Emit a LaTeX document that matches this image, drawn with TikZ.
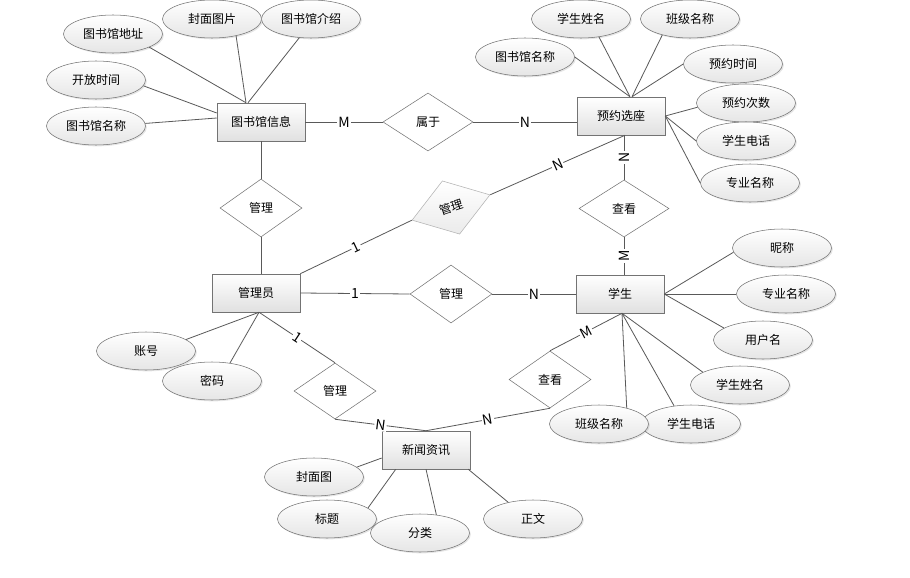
\documentclass[tikz,border=0pt]{standalone}
\usepackage{fontspec}
\setmainfont{Noto Sans CJK SC}
\usetikzlibrary{shapes.geometric,calc,shadows}
\begin{document}
\begin{tikzpicture}[x=0.75pt,y=-0.75pt,
  every node/.style={font=\fontsize{9}{11}\selectfont},
  ent/.style={rectangle, draw=black!55, top color=white, bottom color=black!12,
    minimum width=66pt, minimum height=28.5pt, inner sep=0pt,
    drop shadow={shadow xshift=1pt, shadow yshift=-1pt, opacity=0.25}},
  attr/.style={ellipse, draw=black!55, top color=white, bottom color=black!10,
    minimum width=74.25pt, minimum height=28.5pt, inner sep=0pt,
    drop shadow={shadow xshift=1pt, shadow yshift=-1pt, opacity=0.2}},
  rel/.style={diamond, draw=black!55, fill=white, minimum width=61.5pt,
    minimum height=43.5pt, inner sep=0pt},
  conn/.style={draw=black!65, line width=0.6pt},
  card/.style={fill=white, inner sep=0.8pt, font=\fontsize{10.5}{12}\selectfont}
]
\useasboundingbox[fill=white] (0,0) rectangle (910,578);

% entities
\node[ent] (lib) at (261,122) {图书馆信息};
\node[ent] (yy) at (621,116) {预约选座};
\node[ent] (gly) at (256,293) {管理员};
\node[ent] (xs) at (620,294) {学生};
\node[ent] (xw) at (426,450) {新闻资讯};

% relationships
\node[rel, minimum width=67.5pt] (sy) at (428,122) {属于};
\node[rel] (gl1) at (261,208) {管理};
\node[rel, draw=black!30, top color=white, bottom color=black!8, rotate=18,
  minimum height=42pt] (gl2) at (451,207.5) {管理};
\node[rel] (gl3) at (451,294) {管理};
\node[rel, minimum width=67.5pt, minimum height=42.75pt] (ck1) at (624,208.5) {查看};
\node[rel, minimum height=42pt] (gl4) at (335,391) {管理};
\node[rel, minimum height=42.75pt] (ck2) at (550,379.5) {查看};

% attributes of 图书馆信息
\node[attr] (a1) at (113,34) {图书馆地址};
\node[attr] (a2) at (212,19) {封面图片};
\node[attr] (a3) at (311,19) {图书馆介绍};
\node[attr] (a4) at (96,80) {开放时间};
\node[attr] (a5) at (96,126) {图书馆名称};

% attributes of 预约选座
\node[attr] (b1) at (581,19) {学生姓名};
\node[attr] (b2) at (690,19) {班级名称};
\node[attr] (b3) at (525,57) {图书馆名称};
\node[attr] (b4) at (733,64) {预约时间};
\node[attr] (b5) at (746,103) {预约次数};
\node[attr] (b6) at (746,141) {学生电话};
\node[attr] (b7) at (750,183) {专业名称};

% attributes of 学生
\node[attr] (c1) at (782,248) {昵称};
\node[attr] (c2) at (786,294) {专业名称};
\node[attr] (c3) at (763,340) {用户名};
\node[attr] (c4) at (740,385) {学生姓名};
\node[attr] (c6) at (691,424) {学生电话};
\node[attr] (c5) at (599,424) {班级名称};

% attributes of 管理员
\node[attr] (d1) at (146,351) {账号};
\node[attr] (d2) at (212,381) {密码};

% attributes of 新闻资讯
\node[attr] (e1) at (314,477) {封面图};
\node[attr] (e3) at (420,533) {分类};
\node[attr] (e2) at (327,519) {标题};
\node[attr] (e4) at (533,519) {正文};

% relationship connectors
\draw[conn] (lib.east) -- node[card]{M} (sy.west);
\draw[conn] (sy.east) -- node[card]{N} (sy.east -| yy.west);
\draw[conn] (lib.south) -- (gl1.north);
\draw[conn] (gl1.south) -- (gl1.south |- gly.north);
\draw[conn] (gly.north east) -- node[card, sloped]{1} (gl2.west);
\draw[conn] (gl2.east) -- node[card, sloped]{N} ($(yy.south)+(4,0)$);
\draw[conn] (ck1.north |- yy.south) -- node[card, rotate=90]{N} (ck1.north);
\draw[conn] (ck1.south) -- node[card, rotate=90]{M} (ck1.south |- xs.north);
\draw[conn] (gly.east) -- node[card]{1} (gl3.west);
\draw[conn] (gl3.east) -- node[card]{N} (xs.west);
\draw[conn] ($(gly.south)+(3,0)$) -- node[card, sloped]{1} (gl4.north);
\draw[conn] (gl4.south) -- node[card, sloped]{N} (xw.north);
\draw[conn] (xw.north) -- node[card, sloped]{N} (ck2.south);
\draw[conn] (ck2.north) -- node[card, sloped]{M} ($(xs.south)+(2,0)$);

% attribute connectors
\draw[conn] (a1.-20) -- ($(lib.north)+(-15,0)$);
\draw[conn] (a2.-35) -- ($(lib.north)+(-15,0)$);
\draw[conn] (a3.-122) -- ($(lib.north)+(-13,0)$);
\draw[conn] (a4.-7) -- ($(lib.west)+(0,-9)$);
\draw[conn] (a5.3) -- ($(lib.west)+(0,-4)$);

\draw[conn] (b3.east) -- ($(yy.north)+(9,0)$);
\draw[conn] (b1.-45) -- ($(yy.north)+(9,0)$);
\draw[conn] (b2.-150) -- ($(yy.north)+(11,0)$);
\draw[conn] (b4.west) -- ($(yy.north)+(11,0)$);
\draw[conn] (b5.185) -- (yy.east);
\draw[conn] (b6.west) -- (yy.east);
\draw[conn] (b7.west) -- (yy.east);

\draw[conn] (c1.185) -- (xs.east);
\draw[conn] (c2.west) -- (xs.east);
\draw[conn] (c3.163) -- (xs.east);
\draw[conn] (c4.161) -- ($(xs.south)+(2,0)$);
\draw[conn] (c6.133) -- ($(xs.south)+(2,0)$);
\draw[conn] (c5.30) -- ($(xs.south)+(2,0)$);

\draw[conn] (d1.16) -- ($(gly.south)+(3,0)$);
\draw[conn] (d2.45) -- ($(gly.south)+(3,0)$);

\draw[conn] (e1.13) -- ($(xw.west)+(0,8)$);
\draw[conn] (e2.15) -- ($(xw.south west)+(14,0)$);
\draw[conn] (e3.48) -- (xw.south);
\draw[conn] (e4.146) -- ($(xw.south east)+(-2,0)$);
\end{tikzpicture}
\end{document}
